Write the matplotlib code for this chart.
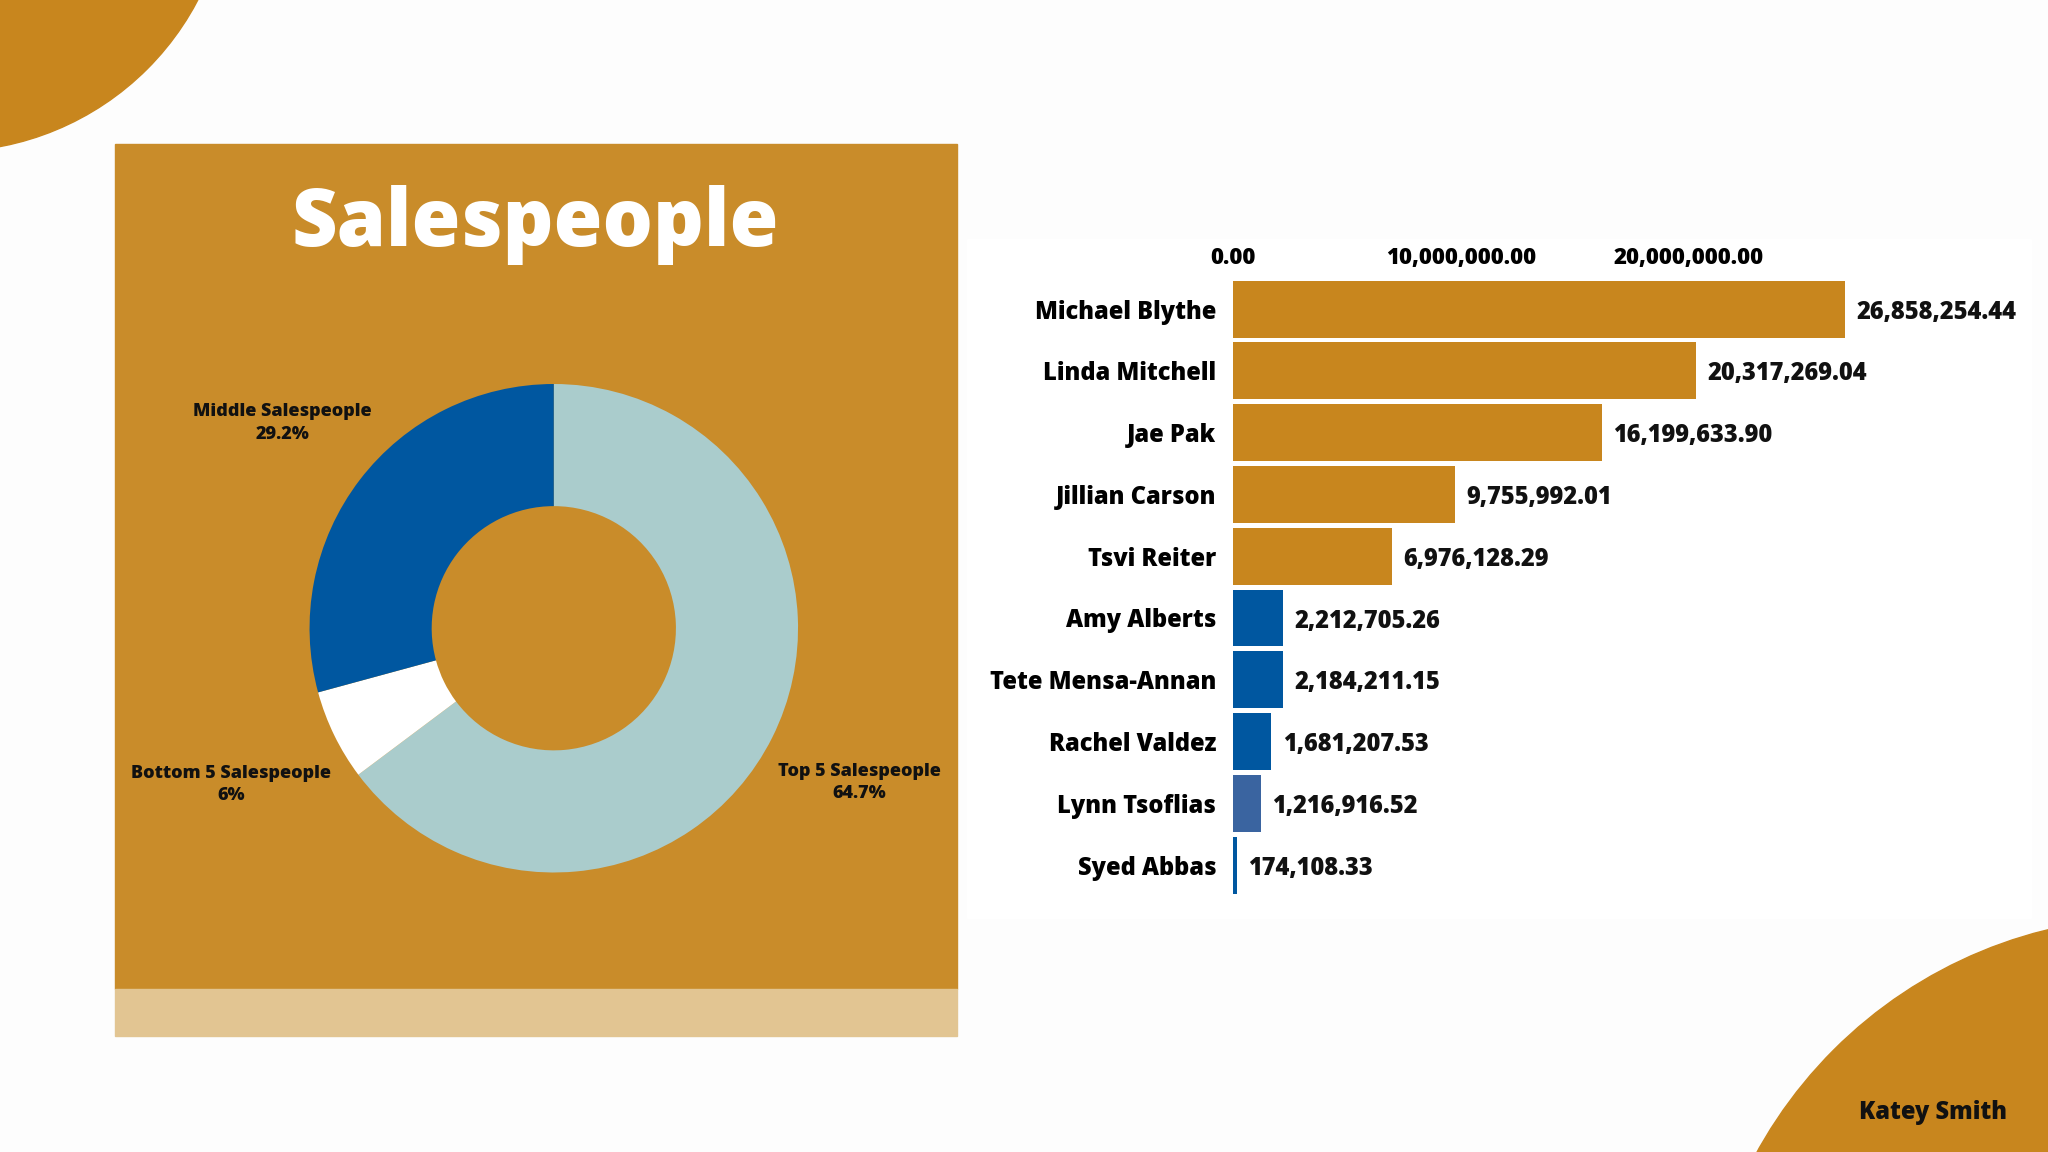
import matplotlib
matplotlib.use("Agg")
import matplotlib.pyplot as plt
from matplotlib.patches import Circle, Rectangle

names = ["Michael Blythe", "Linda Mitchell", "Jae Pak", "Jillian Carson", "Tsvi Reiter",
         "Amy Alberts", "Tete Mensa-Annan", "Rachel Valdez", "Lynn Tsoflias", "Syed Abbas"]
sales = [26858254.44, 20317269.04, 16199633.90, 9755992.01, 6976128.29,
         2212705.26, 2184211.15, 1681207.53, 1216916.52, 174108.33]
bar_colors = ["#c8861e"] * 5 + ["#0057a0"] * 3 + ["#3a64a0", "#0057a0"]
seg_labels = ["Top 5 Salespeople\n64.7%", "Bottom 5 Salespeople\n6%", "Middle Salespeople\n29.2%"]
seg_values = [64.7, 6.0, 29.2]
seg_colors = ["#aacccc", "#ffffff", "#0057a0"]
ticks = [0, 10000000, 20000000]

plt.rcParams['font.family'] = ['Open Sans', 'DejaVu Sans']
W, H = 1568, 882
fig = plt.figure(figsize=(20.48, 11.52), dpi=100, facecolor="#fdfdfd")

bg = fig.add_axes([0, 0, 1, 1])
bg.set_xlim(0, W); bg.set_ylim(H, 0); bg.axis("off")
bg.add_patch(Circle((-40, -100), 216, color="#c8861e"))
bg.add_patch(Circle((1650, 1050), 348, color="#c8861e"))
bg.add_patch(Rectangle((740, 183), 815, 520, color="#ffffff"))
bg.add_patch(Rectangle((88, 110), 645, 647, color="#c98c2a"))
bg.add_patch(Rectangle((88, 757), 645, 36, color="#e2c592"))
bg.text(410, 172, "Salespeople", color="white", fontsize=57, fontweight="heavy", ha="center", va="center")
bg.text(1480, 852, "Katey Smith", color="#111111", fontsize=17, fontweight="heavy", ha="center", va="center")

R = 187
ax = fig.add_axes([(424 - R) / W, 1 - (481 + R) / H, 2 * R / W, 2 * R / H])
ax.pie(seg_values, colors=seg_colors, startangle=90, counterclock=False, radius=1,
       wedgeprops=dict(width=0.5, edgecolor="none"))
ax.set_xlim(-1, 1); ax.set_ylim(-1, 1); ax.set_aspect("equal")
pos = [(1.25, -0.63), (-1.32, -0.64), (-1.11, 0.84)]
for lab, (x, y) in zip(seg_labels, pos):
    ax.text(x, y, lab, ha="center", va="center", fontsize=13, fontweight="heavy",
            color="#111111", clip_on=False, linespacing=1.4)

top, bot = 213, 686
bx = fig.add_axes([944 / W, 1 - bot / H, 593 / W, (bot - top) / H])
y = list(range(len(names)))
bx.barh(y, sales, height=0.92, color=bar_colors)
bx.set_xlim(0, 34000000); bx.set_ylim(len(names) - 0.5, -0.5)
bx.set_yticks(y); bx.set_yticklabels(names, fontsize=17, fontweight="heavy")
bx.xaxis.tick_top()
bx.set_xticks(ticks); bx.set_xticklabels([f"{t:,.2f}" for t in ticks], fontsize=16, fontweight="heavy")
bx.tick_params(length=0, pad=12)
bx.tick_params(axis="x", pad=6)
for s in bx.spines.values(): s.set_visible(False)
bx.patch.set_alpha(0)
for yi, v in zip(y, sales):
    bx.text(v + 500000, yi + 0.05, f"{v:,.2f}", va="center", fontsize=17, fontweight="heavy", color="#111111")

fig.savefig("out.png", dpi=100, facecolor=fig.get_facecolor())
